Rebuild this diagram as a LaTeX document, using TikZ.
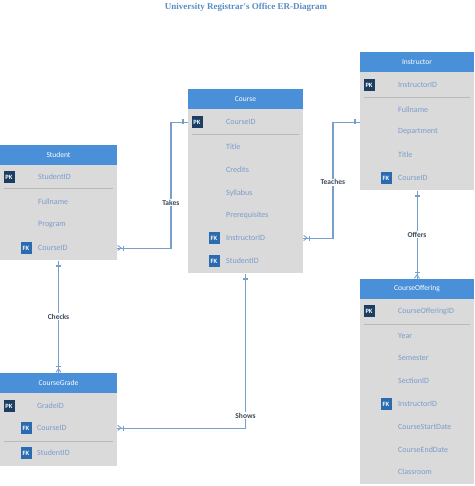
\documentclass[tikz,border=0pt]{standalone}
\usepackage{fontspec}
\setmainfont{Carlito}
\newfontfamily\titlefont{Liberation Serif}
\usetikzlibrary{positioning,arrows.meta}

\definecolor{hdrblue}{RGB}{74,144,217}
\definecolor{bodygray}{RGB}{218,218,218}
\definecolor{fldblue}{RGB}{122,156,204}
\definecolor{pknavy}{RGB}{28,62,99}
\definecolor{fkblue}{RGB}{43,108,176}
\definecolor{linkblue}{RGB}{120,158,204}
\definecolor{lblgray}{RGB}{59,74,94}
\definecolor{titleblue}{RGB}{90,140,196}

\begin{document}
\begin{tikzpicture}[x=1pt,y=-1pt]
  \tikzstyle{hdr}=[fill=hdrblue,text=white,minimum height=20pt,inner sep=0pt,font=\fontsize{7.5}{8}\selectfont]
  \tikzstyle{body}=[fill=bodygray,inner sep=0pt]
  \tikzstyle{fld}=[anchor=west,text=fldblue,inner sep=0pt,font=\fontsize{8}{9}\selectfont]
  \tikzstyle{pk}=[fill=pknavy,text=white,minimum width=11pt,minimum height=12pt,inner sep=0pt,font=\fontsize{6.5}{7}\selectfont\bfseries]
  \tikzstyle{fk}=[pk,fill=fkblue]
  \tikzstyle{sepline}=[draw=gray!55,line width=0.6pt]
  \tikzstyle{rel}=[color=linkblue,line width=0.9pt,shorten <=2.5pt,
    arrows={Bar[width=5pt,sep=1.5pt]Bar[width=5pt]}-{Bar[width=5pt,sep=1pt]Straight Barb[reversed,length=3.5pt,width=5pt]},
    preaction={draw=linkblue,-,shorten <=0pt}]
  \tikzstyle{lbl}=[fill=white,text=lblgray,inner sep=1pt,font=\fontsize{7.5}{8}\selectfont\bfseries]

  \useasboundingbox (0,0) rectangle (474,486);
  \node[text=titleblue,font=\titlefont\fontsize{9}{10}\selectfont\bfseries] (title) at (246,7) {University Registrar's Office ER-Diagram};

  % Course
  \node[hdr,minimum width=115pt] (crs) at (245.5,99) {Course};
  \node[body,minimum width=115pt,minimum height=164pt,below=0pt of crs] (crsbody) {};
  \foreach \f/\y [count=\i] in {CourseID/122,Title/147,Credits/170,Syllabus/193,Prerequisites/215,InstructorID/238,StudentID/261}
    \node[fld] (crs-f\i) at (226,\y) {\f};
  \draw[sepline] (192,134) -- (299,134);
  \node[pk] (crs-pk) at (197,122) {PK};
  \node[fk] (crs-fk1) at (214,238) {FK};
  \node[fk] (crs-fk2) at (214,261) {FK};

  % Student
  \node[hdr,minimum width=117pt] (st) at (58.5,155) {Student};
  \node[body,minimum width=117pt,minimum height=95pt,below=0pt of st] (stbody) {};
  \foreach \f/\y [count=\i] in {StudentID/177,Fullname/202,Program/225,CourseID/248}
    \node[fld] (st-f\i) at (38,\y) {\f};
  \draw[sepline] (4,188) -- (113,188);
  \node[pk] (st-pk) at (9,177) {PK};
  \node[fk] (st-fk) at (26,248) {FK};

  % Instructor
  \node[hdr,minimum width=114pt] (ins) at (417,62) {Instructor};
  \node[body,minimum width=114pt,minimum height=118pt,below=0pt of ins] (insbody) {};
  \foreach \f/\y [count=\i] in {InstructorID/85,Fullname/110,Department/132,Title/155,CourseID/178}
    \node[fld] (ins-f\i) at (398,\y) {\f};
  \draw[sepline] (364,97) -- (470,97);
  \node[pk] (ins-pk) at (369,85) {PK};
  \node[fk] (ins-fk) at (386,178) {FK};

  % CourseOffering
  \node[hdr,minimum width=114pt] (off) at (417,289) {CourseOffering};
  \node[body,minimum width=114pt,minimum height=185pt,below=0pt of off] (offbody) {};
  \foreach \f/\y [count=\i] in {CourseOfferingID/311,Year/336,Semester/358,SectionID/381,InstructorID/404,CourseStartDate/427,CourseEndDate/450,Classroom/472}
    \node[fld] (off-f\i) at (398,\y) {\f};
  \draw[sepline] (364,324) -- (470,324);
  \node[pk] (off-pk) at (369,311) {PK};
  \node[fk] (off-fk) at (386,404) {FK};

  % CourseGrade
  \node[hdr,minimum width=117pt] (grd) at (58.5,383) {CourseGrade};
  \node[body,minimum width=117pt,minimum height=73pt,below=0pt of grd] (grdbody) {};
  \foreach \f/\y [count=\i] in {GradeID/406,CourseID/428,StudentID/453}
    \node[fld] (grd-f\i) at (37,\y) {\f};
  \draw[sepline] (4,441) -- (113,441);
  \node[pk] (grd-pk) at (9,406) {PK};
  \node[fk] (grd-fk1) at (26,428) {FK};
  \node[fk] (grd-fk2) at (26,453) {FK};

  % relationships
  \draw[rel] (crsbody.west |- crs-f1) -- ++(-17,0) |- node[lbl,pos=0.32] {Takes} (stbody.east |- st-f4);
  \draw[rel] (insbody.west |- crs-f1) -- ++(-27,0) |- node[lbl,pos=0.26] {Teaches} (crsbody.east |- crs-f6);
  \draw[rel] (insbody.south) -- node[lbl] {Offers} (off.north);
  \draw[rel] (stbody.south) -- node[lbl] {Checks} (grd.north);
  \draw[rel] (crsbody.south) |- node[lbl,pos=0.46] {Shows} (grdbody.east |- grd-f2);
\end{tikzpicture}
\end{document}
